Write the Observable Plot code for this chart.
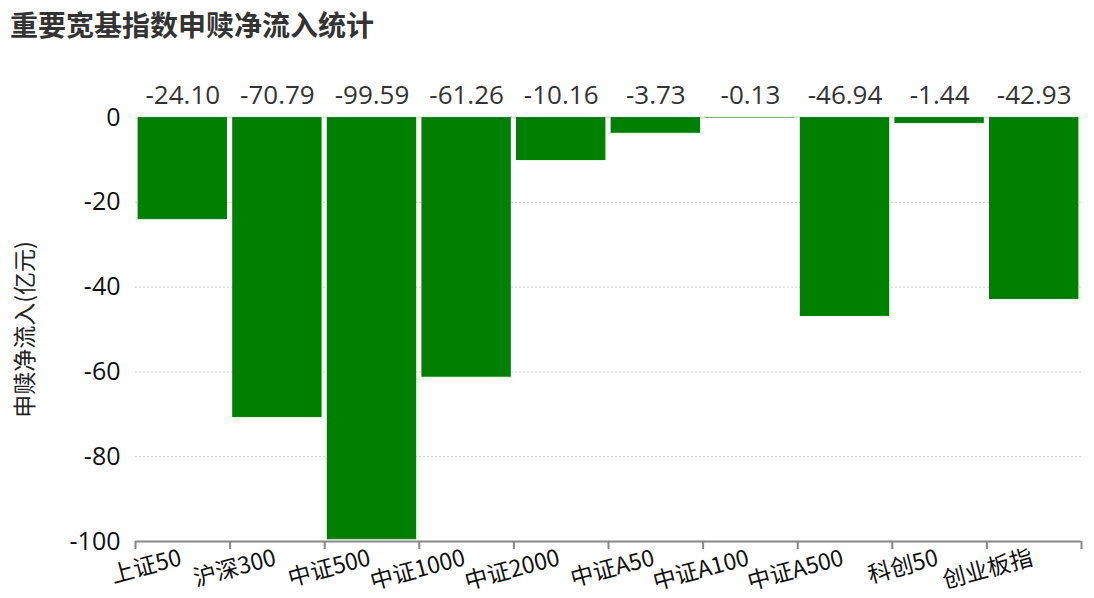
<!DOCTYPE html>
<html>
<head>
<meta charset="utf-8">
<script src="https://cdn.jsdelivr.net/npm/d3@7"></script>
<script src="https://cdn.jsdelivr.net/npm/@observablehq/plot@0.6"></script>
<style>
  html, body { margin: 0; padding: 0; background: #fff; }
  body { width: 1094px; height: 598px; overflow: hidden; font-family: "Open Sans", "Noto Sans CJK SC", sans-serif; }
  #title { height: 50px; box-sizing: border-box; padding: 6px 0 0 10px; font-size: 28px; font-weight: bold; color: #333; font-family: "Noto Sans CJK SC", sans-serif; line-height: 36px; }
</style>
</head>
<body>
<div id="title">重要宽基指数申赎净流入统计</div>
<div id="chart"></div>
<script>
const categories = ["上证50", "沪深300", "中证500", "中证1000", "中证2000", "中证A50", "中证A100", "中证A500", "科创50", "创业板指"];
const values = [-24.10, -70.79, -99.59, -61.26, -10.16, -3.73, -0.13, -46.94, -1.44, -42.93];
const yTicks = [0, -20, -40, -60, -80, -100];
const gridTicks = [-20, -40, -60, -80];
const yLabel = "申赎净流入(亿元)";

const data = categories.map((c, i) => ({name: c, value: values[i]}));

const W = 1094, H = 548;
const mL = 135, mR = 13, mT = 67, mB = 57;
const step = (W - mL - mR) / categories.length;

const chart = Plot.plot({
  width: W,
  height: H,
  marginLeft: mL,
  marginRight: mR,
  marginTop: mT,
  marginBottom: mB,
  style: {fontFamily: "'Open Sans', 'Noto Sans CJK SC', sans-serif", background: "#fff"},
  x: {domain: categories, paddingInner: 0.055, paddingOuter: 0.0275, round: false, label: null},
  y: {domain: [-100, 0], label: null},
  marks: [
    Plot.gridY(gridTicks, {stroke: "#ccc", strokeOpacity: 1, strokeDasharray: "2,2"}),
    Plot.barY(data, {x: "name", y: "value", fill: "#008000"}),
    Plot.ruleY([-100], {stroke: "#888", strokeWidth: 2}),
    Plot.axisX({ticks: categories, tickSize: 8, text: null, stroke: "#888", strokeWidth: 2, dx: -step / 2}),
    Plot.axisX({ticks: categories.slice(-1), tickSize: 8, text: null, stroke: "#888", strokeWidth: 2, dx: step / 2}),
    Plot.axisX({ticks: categories, tickSize: 0, tickPadding: 16, tickRotate: -15, dx: -2, fontSize: 23, fill: "#111", fontFamily: "'Noto Sans CJK SC', sans-serif", label: null}),
    Plot.axisY({ticks: yTicks, tickSize: 0, tickPadding: 15, tickFormat: d => String(d), fontSize: 25, fill: "#111", label: null}),
    Plot.text([yLabel], {frameAnchor: "left", textAnchor: "middle", dx: -110, rotate: -90, text: d => d, fontSize: 23, fill: "#222", fontFamily: "'Noto Sans CJK SC', sans-serif"}),
    Plot.text(data, {x: "name", y: () => 0, text: d => d.value.toFixed(2), dy: -22, fontSize: 26, fill: "#333"})
  ]
});
document.getElementById("chart").appendChild(chart);
</script>
</body>
</html>
